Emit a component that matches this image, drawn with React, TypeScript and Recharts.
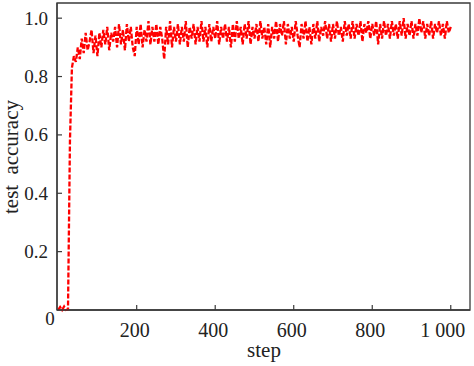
import { LineChart, Line, XAxis, YAxis, ReferenceArea } from 'recharts';

const accuracy = [
  0, 0.01, 0, 0.012, 0, 0.002, 0.58, 0.83, 0.87, 0.85,
  0.9, 0.86, 0.93, 0.88, 0.95, 0.89, 0.92, 0.96, 0.88, 0.94,
  0.87, 0.95, 0.9, 0.96, 0.91, 0.97, 0.89, 0.95, 0.92, 0.97,
  0.9, 0.98, 0.91, 0.96, 0.89, 0.98, 0.92, 0.97, 0.9, 0.87,
  0.97, 0.91, 0.98, 0.9, 0.96, 0.92, 0.99, 0.91, 0.97, 0.92,
  0.98, 0.91, 0.97, 0.93, 0.86, 0.97, 0.91, 0.99, 0.9, 0.97,
  0.92, 0.98, 0.91, 0.97, 0.92, 0.99, 0.9, 0.97, 0.93, 0.98,
  0.91, 0.97, 0.92, 0.99, 0.92, 0.97, 0.9, 0.98, 0.92, 0.97,
  0.93, 0.99, 0.91, 0.97, 0.93, 0.98, 0.92, 0.97, 0.9, 0.98,
  0.92, 0.99, 0.93, 0.97, 0.91, 0.98, 0.93, 0.99, 0.91, 0.97,
  0.93, 0.98, 0.92, 0.99, 0.93, 0.97, 0.91, 0.98, 0.9, 0.97,
  0.93, 0.99, 0.92, 0.98, 0.94, 0.99, 0.91, 0.98, 0.93, 0.97,
  0.92, 0.99, 0.94, 0.9, 0.98, 0.93, 0.99, 0.92, 0.97, 0.91,
  0.98, 0.93, 0.99, 0.92, 0.97, 0.94, 0.99, 0.93, 0.98, 0.92,
  0.98, 0.93, 0.99, 0.94, 0.97, 0.92, 0.99, 0.94, 0.98, 0.93,
  0.99, 0.93, 0.98, 0.94, 0.99, 0.92, 0.98, 0.95, 0.99, 0.93,
  0.98, 0.94, 0.99, 0.91, 0.98, 0.93, 0.99, 0.94, 0.98, 0.93,
  0.99, 0.94, 0.98, 0.93, 0.99, 0.94, 1.0, 0.93, 0.98, 0.94,
  0.99, 0.93, 0.98, 0.94, 1.0, 0.95, 0.99, 0.93, 0.98, 0.94,
  0.99, 0.93, 0.98, 0.95, 0.99, 0.94, 0.98, 0.93, 0.99, 0.95,
  0.97,
];
const stepInterval = 5;

const xTicks = [200, 400, 600, 800, 1000];
const yTicks = [0, 0.2, 0.4, 0.6, 0.8, 1.0];

const data = accuracy.map((acc, i) => ({ step: i * stepInterval, acc }));

const FONT = 'Liberation Serif, Times New Roman, serif';
const INK = '#222';
const AXIS = '#3a3a3a';
const txt = { fontFamily: FONT };

function XTick({ x, y, payload }: any) {
  const v = payload.value;
  const shift = v === 1000 ? -8 : -2;
  return (
    <g>
      <line x1={x} y1={y} x2={x} y2={y - 5} stroke={AXIS} strokeWidth={1.2} />
      <text x={x + shift} y={y + 27} textAnchor="middle" style={txt} fontSize={20} fill={INK}>
        {v === 1000 ? '1 000' : String(v)}
      </text>
    </g>
  );
}

function YTick({ x, y, payload }: any) {
  const v = payload.value;
  if (v === 0) {
    return (
      <text x={x - 7} y={y + 15} textAnchor="middle" style={txt} fontSize={19} fill={INK}>
        0
      </text>
    );
  }
  return (
    <g>
      <line x1={x} y1={y} x2={x + 5} y2={y} stroke={AXIS} strokeWidth={1.2} />
      <text x={x - 9} y={y + 6.5} textAnchor="end" style={txt} fontSize={19} fill={INK}>
        {v.toFixed(1)}
      </text>
    </g>
  );
}

export default function App() {
  return (
    <div style={{ position: 'absolute', left: 0, top: 0, width: 474, height: 366, background: '#fff' }}>
      <LineChart width={474} height={366} data={data} margin={{ top: 3, right: 4, bottom: 0, left: 0 }}>
        <XAxis
          dataKey="step"
          type="number"
          domain={[-3, 1049]}
          ticks={xTicks}
          height={56}
          tickSize={0}
          tickMargin={0}
          tickLine={false}
          axisLine={{ stroke: AXIS, strokeWidth: 1.3 }}
          tick={<XTick />}
          interval={0}
        />
        <YAxis
          type="number"
          domain={[0, 1.052]}
          ticks={yTicks}
          width={57}
          tickSize={0}
          tickMargin={0}
          tickLine={false}
          axisLine={{ stroke: AXIS, strokeWidth: 1.3 }}
          tick={<YTick />}
          interval={0}
        />
        <ReferenceArea x1={-3} x2={1049} y1={0} y2={1.052} fill="none" stroke={AXIS} strokeWidth={1.3} />
        <Line
          type="linear"
          dataKey="acc"
          stroke="#ff0000"
          strokeWidth={2.3}
          strokeDasharray="5 2"
          dot={false}
          isAnimationActive={false}
        />
      </LineChart>
      <svg width={474} height={366} style={{ position: 'absolute', left: 0, top: 0, pointerEvents: 'none' }}>
        <text x={264} y={357} textAnchor="middle" style={txt} fontSize={21} fill={INK}>
          step
        </text>
        <text
          x={18}
          y={157}
          transform="rotate(-90 18 157)"
          textAnchor="middle"
          style={txt}
          fontSize={21}
          wordSpacing={5}
          fill={INK}
        >
          test accuracy
        </text>
      </svg>
    </div>
  );
}
